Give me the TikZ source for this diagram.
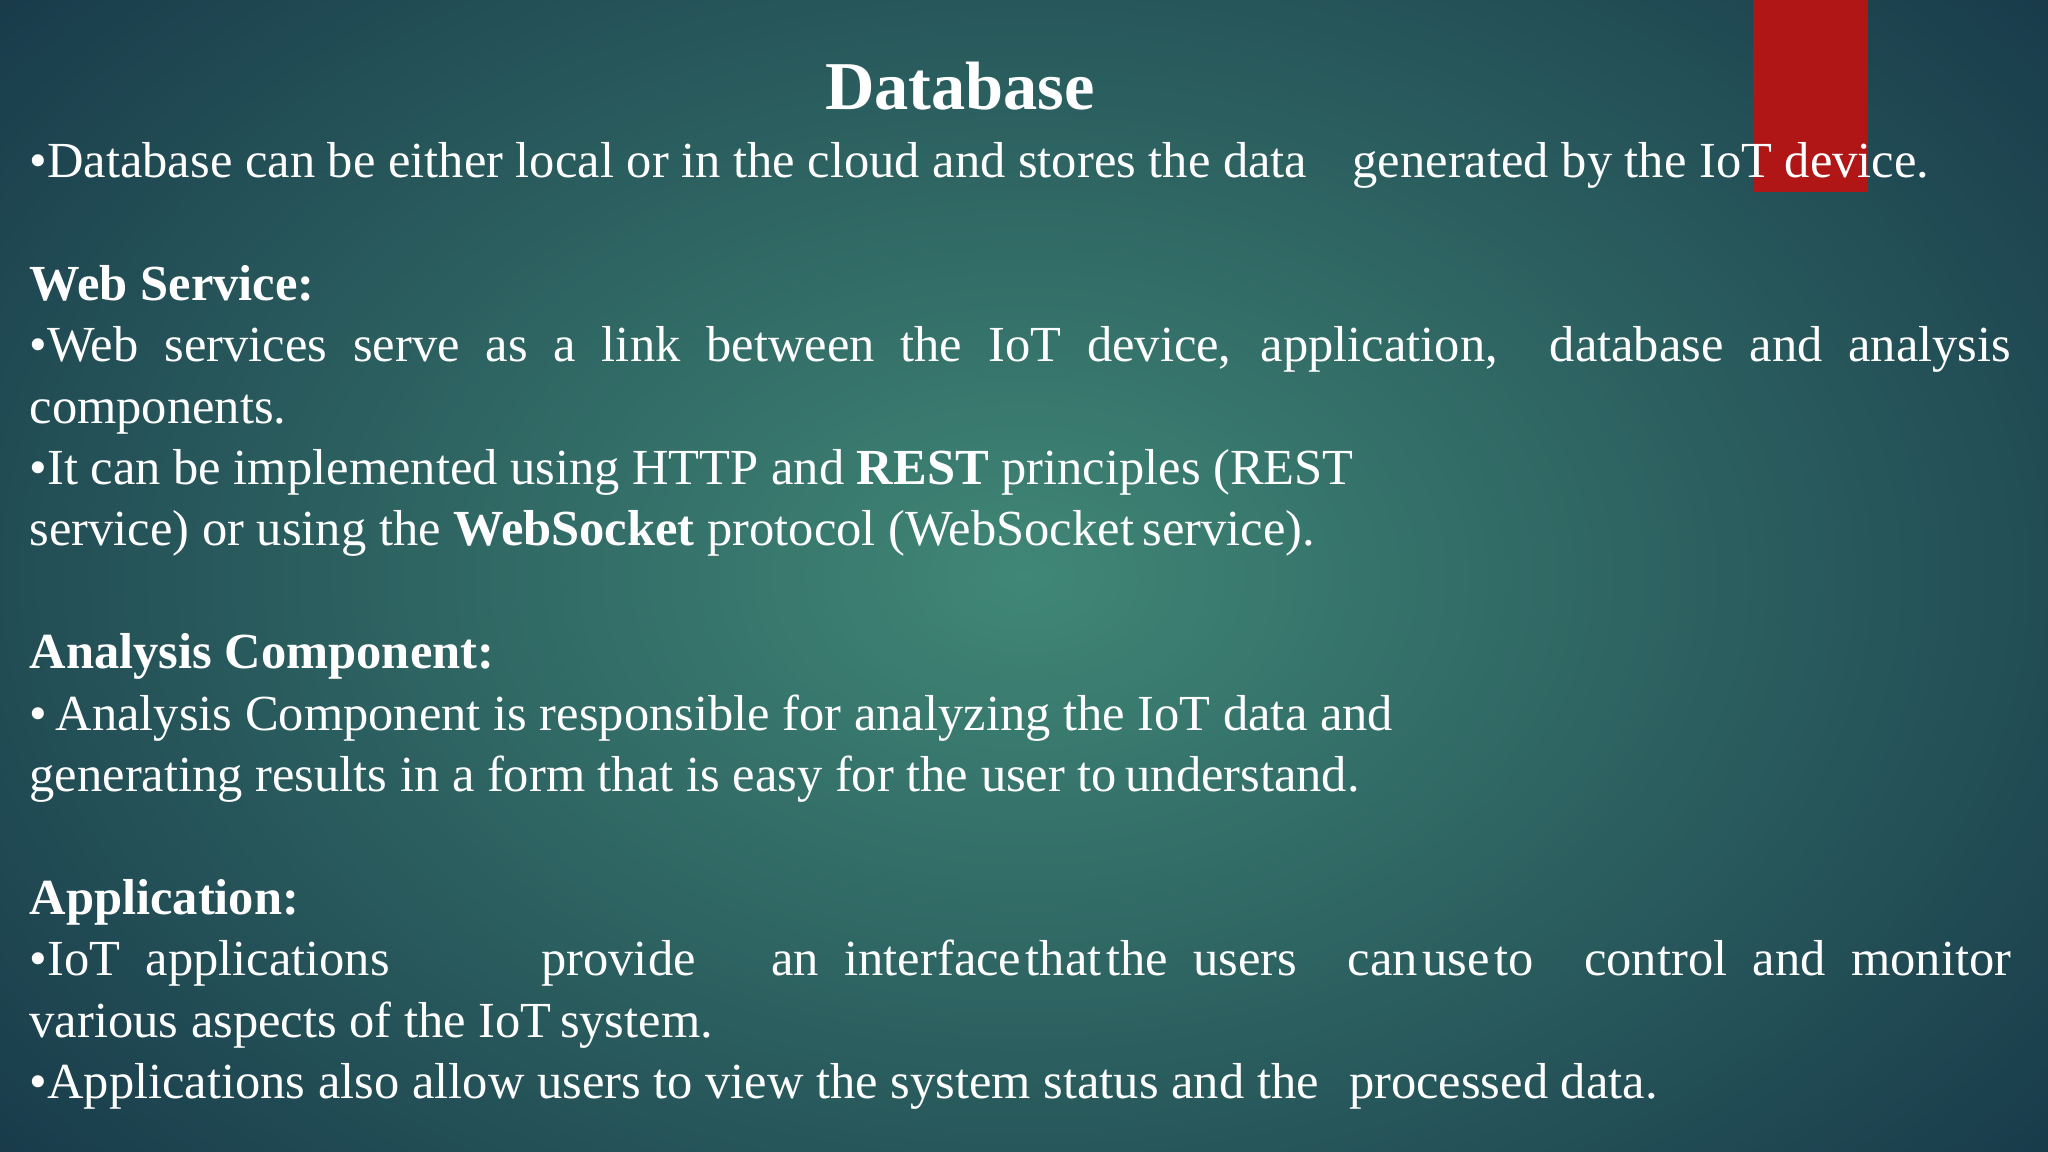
\documentclass[tikz,border=0pt]{standalone}
\usepackage{fontspec}
\setmainfont{Liberation Serif}
\begin{document}
\begin{tikzpicture}[x=0.01cm,y=-0.01cm,
  txt/.style={anchor=base west,inner sep=0,text=white,font=\fontsize{11pt}{13pt}\selectfont},
  hd/.style={txt,font=\fontsize{11pt}{13pt}\selectfont\bfseries}]
\useasboundingbox (0,0) rectangle (1568,882);
\shade[inner color={rgb,255:red,64;green,135;blue,118}, outer color={rgb,255:red,22;green,54;blue,72}] (-300,-300) rectangle (1868,1182);
\fill[fill={rgb,255:red,176;green,22;blue,22}] (1342,0) rectangle (1430,147);
\node[txt,anchor=base,font=\fontsize{14.9pt}{17pt}\selectfont\bfseries] (title) at (735,84) {Database};
\node[txt] (l1) at (22,136) {•Database can be either local or in the cloud and stores the data\hspace{0.9em}generated by the IoT device.};
\node[hd] (h2) at (22,230) {Web Service:};
\node[txt] (l2) at (22,277) {\makebox[1517\dimexpr 0.01cm\relax][s]{•Web services serve as a link between the IoT device, application,\ \ database and analysis}};
\node[txt] (l3) at (22,324) {components.};
\node[txt] (l4) at (22,371) {•It can be implemented using HTTP and \textbf{REST} principles (REST};
\node[txt] (l5) at (22,418) {service) or using the \textbf{WebSocket} protocol (WebSocket\,service).};
\node[hd] (h3) at (22,512) {Analysis Component:};
\node[txt] (l6) at (22,559) {•\,Analysis Component is responsible for analyzing the IoT data and};
\node[txt] (l7) at (22,606) {generating results in a form that is easy for the user to\,understand.};
\node[hd] (h4) at (22,700) {Application:};
\node[txt] (l8) at (22,747) {\makebox[1517\dimexpr 0.01cm\relax][s]{•IoT applications\hspace{3em}provide\hspace{1.5em}an interface\kern1pt that\kern1pt the users\hspace{1em}can\kern1pt use\kern1pt to\hspace{1em}control and monitor}};
\node[txt] (l9) at (22,794) {various aspects of the IoT\,system.};
\node[txt] (l10) at (22,841) {•Applications also allow users to view the system status and the\hspace{0.6em}processed data.};
\end{tikzpicture}
\end{document}
